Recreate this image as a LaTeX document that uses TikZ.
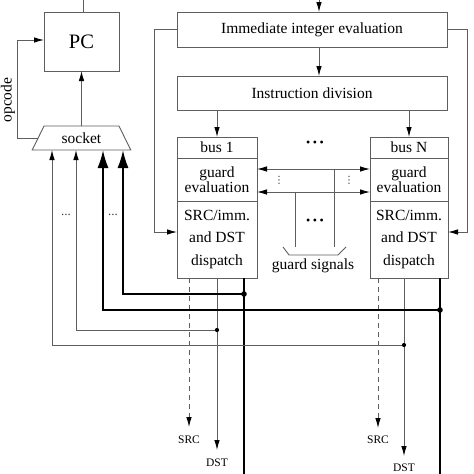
\documentclass[tikz,border=0pt]{standalone}
\usepackage{fontspec}
\setmainfont{Liberation Serif}
\newfontfamily\dvsfont{DejaVu Sans}
\usetikzlibrary{arrows.meta,shapes.geometric}
\definecolor{lg}{HTML}{5E5E5E}
\begin{document}
\begin{tikzpicture}[x=1pt,y=-1pt,
  blk/.style={draw=lg, line width=0.9pt, inner sep=0pt, outer sep=0pt, align=center,
    font=\fontsize{15.5}{17}\selectfont},
  conn/.style={draw=lg, line width=0.9pt},
  arr/.style={conn, -{Latex[length=10pt,width=5.5pt,color=black]}},
  darr/.style={conn, {Latex[length=10pt,width=5.5pt,color=black]}-{Latex[length=10pt,width=5.5pt,color=black]}},
  thk/.style={draw=black, line width=1.8pt},
  thkarr/.style={thk, -{Latex[length=18pt,width=11pt]}},
  dashy/.style={arr, dash pattern=on 5pt off 4pt},
  lbl/.style={inner sep=0pt, font=\fontsize{15.5}{17}\selectfont},
  small/.style={inner sep=0pt, font=\fontsize{11.5}{13}\selectfont},
  dotty/.style={inner sep=0pt, font=\fontsize{12}{12}\selectfont},
  vdot/.style={inner sep=0pt, font=\dvsfont\fontsize{10}{10}\selectfont, text=black!80}
]
\useasboundingbox[fill=white] (0,0) rectangle (474,474);

% main boxes
\node[blk, minimum width=75pt, minimum height=59pt, font=\fontsize{20.5}{22}\selectfont] (pc) at (81.5,41.5) {PC};
\node[blk, minimum width=270pt, minimum height=35pt] (imm) at (312,29.5) {Immediate integer evaluation};
\node[blk, minimum width=270pt, minimum height=34pt] (instr) at (312,93) {Instruction division};

% bus 1
\node[blk, minimum width=80pt, minimum height=21pt] (b1h) at (217,147.5) {bus 1};
\node[blk, minimum width=80pt, minimum height=43pt, font=\fontsize{15.5}{14}\selectfont] (b1g) at (217,179.5) {guard\\evaluation};
\node[blk, minimum width=80pt, minimum height=77pt, font=\fontsize{15.5}{22.5}\selectfont] (b1d) at (217,239.5) {SRC/imm.\\and DST\\dispatch};

% bus N
\node[blk, minimum width=78pt, minimum height=21pt] (bNh) at (409,147.5) {bus N};
\node[blk, minimum width=78pt, minimum height=43pt, font=\fontsize{15.5}{14}\selectfont] (bNg) at (409,179.5) {guard\\evaluation};
\node[blk, minimum width=78pt, minimum height=77pt, font=\fontsize{15.5}{22.5}\selectfont] (bNd) at (409,239.5) {SRC/imm.\\and DST\\dispatch};

% socket
\node[trapezium, draw=lg, line width=0.9pt, trapezium angle=60, trapezium stretches=true,
  minimum width=99pt, minimum height=24pt, inner sep=0pt, outer sep=0pt,
  font=\fontsize{15.5}{17}\selectfont] (socket) at (81.5,138) {socket};

% top connections
\coordinate (pctop) at (83,0);
\draw[conn] (pctop) -- (pctop |- pc.north);
\coordinate (immtop) at (319,0);
\draw[arr] (immtop) -- (immtop |- imm.north);
\draw[arr] (imm.south -| immtop) -- (instr.north -| immtop);
\draw[arr] (instr.south -| b1h.north) -- (b1h.north);
\draw[arr] (instr.south -| bNh.north) -- (bNh.north);

% socket to PC, opcode
\draw[arr] (socket.north) -- (pc.south);
\coordinate (op) at (17,40);
\draw[arr] (socket.west) -| (op) -- (op -| pc.west);
\node[lbl, rotate=90] (opl) at (8,100) {opcode};

% feedback from immediate evaluation
\coordinate (lfb) at (154,232);
\draw[arr] (imm.west) -| (lfb) -- (lfb -| b1d.west);
\coordinate (rfb) at (467,232);
\draw[arr] (imm.east) -| (rfb) -- (rfb -| bNd.east);

% guard signals
\coordinate (gu) at (315,169);
\coordinate (gl) at (315,192);
\draw[darr] (b1g.east |- gu) -- (bNg.west |- gu);
\draw[darr] (b1g.east |- gl) -- (bNg.west |- gl);
\coordinate (vr) at (334,247);
\coordinate (vl) at (295,247);
\draw[conn] (vr |- gu) -- (vr);
\draw[conn] (vl |- gl) -- (vl);
\draw[conn] (283,247) -- (289,255) -- (338,255) -- (346,247);
\node[lbl] (gs) at (313,266) {guard signals};
\node[dotty] (dt1) at (315,144) {\textbullet\hspace{2.5pt}\textbullet\hspace{2.5pt}\textbullet};
\node[dotty] (dt2) at (315,222) {\textbullet\hspace{2.5pt}\textbullet\hspace{2.5pt}\textbullet};
\node[vdot] (vd1) at (279,180) {⋮};
\node[vdot] (vd2) at (349,180) {⋮};

% bus 1 outputs
\coordinate (b1src) at (189,427);
\draw[dashy] (b1d.south -| b1src) -- (b1src);
\node[small] (src1) at (189,440) {SRC};
\coordinate (b1dst) at (217,450);
\draw[arr] (b1d.south -| b1dst) -- (b1dst);
\node[small] (dst1) at (217,463) {DST};
\coordinate (b1out) at (244,474);
\draw[thk] (b1d.south -| b1out) -- (b1out);

% bus N outputs
\coordinate (bNsrc) at (378,428);
\draw[dashy] (bNd.south -| bNsrc) -- (bNsrc);
\node[small] (srcN) at (378,440) {SRC};
\coordinate (bNdst) at (404,456);
\draw[arr] (bNd.south -| bNdst) -- (bNdst);
\node[small] (dstN) at (404,468) {DST};
\coordinate (bNout) at (440,474);
\draw[thk] (bNd.south -| bNout) -- (bNout);

% feedback to socket
\coordinate (s1) at (52,150);
\coordinate (s2) at (76,150);
\coordinate (s3) at (103,150);
\coordinate (s4) at (123,150);
\coordinate (j4) at (244,294);
\coordinate (j3) at (440,310);
\coordinate (j2) at (217,330);
\coordinate (j1) at (404,345);
\draw[arr] (j1) -| (s1);
\draw[arr] (j2) -| (s2);
\draw[thkarr] (j3) -| (s3);
\draw[thkarr] (j4) -| (s4);
\fill (j4) circle (2.8);
\fill (j3) circle (2.8);
\fill (j2) circle (2.1);
\fill (j1) circle (2.1);
\node[inner sep=0pt, font=\fontsize{13}{13}\selectfont, text=black!75] (el1) at (66,215) {...};
\node[inner sep=0pt, font=\fontsize{13}{13}\selectfont, text=black!75] (el2) at (113,215) {...};
\end{tikzpicture}
\end{document}
